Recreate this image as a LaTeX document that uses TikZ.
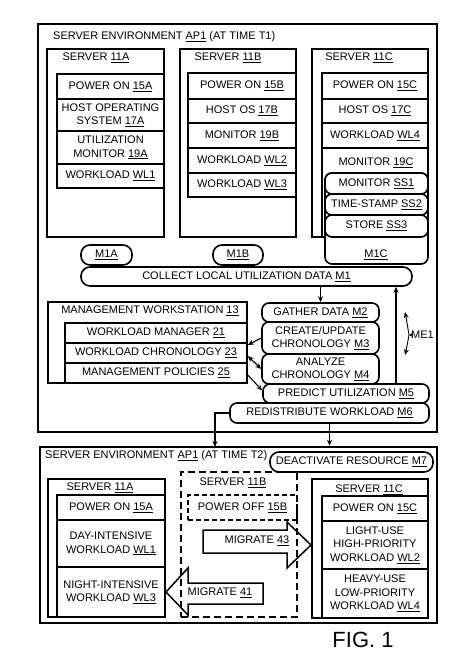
\documentclass[tikz,border=0pt]{standalone}
\usepackage{fontspec}
\setmainfont{Liberation Sans}
\usetikzlibrary{fit,arrows.meta}
\newcommand\ulr[1]{\underline{#1}}
\newcommand\fs{\fontsize{11}{13.5}\selectfont}
% \boxtext{style}{name}{x1,y1}{x2,y2}{text}
\newcommand\boxtext[5]{%
  \node[#1, fit={(#3)(#4)}] (#2) {};
  \node[lbl] (#2-t) at (#2.center) {#5};}
\begin{document}
\begin{tikzpicture}[x=1pt,y=-1pt,
  envbox/.style={draw, line width=2.6pt, inner sep=0pt},
  srvbox/.style={draw, line width=2.4pt, fill=white, inner sep=0pt},
  cell/.style={draw, line width=1.6pt, fill=white, inner sep=0pt},
  rcell/.style={cell, rounded corners=7pt},
  rcellb/.style={cell, rounded corners=9pt},
  lbl/.style={inner sep=0pt, font=\fs, align=center},
  arr/.style={-{Stealth[length=6pt,width=5pt]}, line width=1.1pt},
  arrb/.style={{Stealth[length=6pt,width=5pt]}-{Stealth[length=6pt,width=5pt]}, line width=1.1pt},
  blockarrow/.style={draw, line width=1.5pt, fill=white, line join=miter},
  dashbox/.style={draw, line width=2.6pt, dash pattern=on 7pt off 4pt, inner sep=0pt},
  dashcell/.style={draw, line width=1.6pt, dash pattern=on 5pt off 3pt, inner sep=0pt}
]
\useasboundingbox (0,0) rectangle (474,668);
\fill[white] (0,0) rectangle (474,668);

% ---------- environment at T1 ----------
\node[envbox, fit={(38,24)(437,432)}] (env1) {};
\node[lbl, anchor=west] (env1t) at (53,37) {SERVER ENVIRONMENT \ulr{AP1} (AT TIME T1)};

% server 11A
\node[srvbox, fit={(47,49)(164,237)}] (s11a) {};
\node[lbl] (s11at) at (96,58) {SERVER \ulr{11A}};
\boxtext{cell}{p15a}{57,74}{164,99}{POWER ON \ulr{15A}}
\boxtext{cell}{h17a}{57,99}{164,131}{HOST OPERATING\\SYSTEM \ulr{17A}}
\boxtext{cell}{m19a}{57,131}{164,164}{UTILIZATION\\MONITOR \ulr{19A}}
\boxtext{cell}{wl1a}{57,164}{164,188}{WORKLOAD \ulr{WL1}}

% server 11B
\node[srvbox, fit={(180,49)(296,237)}] (s11b) {};
\node[lbl] (s11bt) at (228,58) {SERVER \ulr{11B}};
\boxtext{cell}{p15b}{188,73}{296,99}{POWER ON \ulr{15B}}
\boxtext{cell}{h17b}{188,99}{296,123}{HOST OS \ulr{17B}}
\boxtext{cell}{m19b}{188,123}{296,148}{MONITOR \ulr{19B}}
\boxtext{cell}{wl2b}{188,148}{296,173}{WORKLOAD \ulr{WL2}}
\boxtext{cell}{wl3b}{188,173}{296,197}{WORKLOAD \ulr{WL3}}

% server 11C
\node[srvbox, fit={(312,49)(428,237)}] (s11c) {};
\node[lbl] (s11ct) at (359,58) {SERVER \ulr{11C}};
\boxtext{cell}{p15c}{322,73}{428,99}{POWER ON \ulr{15C}}
\boxtext{cell}{h17c}{322,99}{428,123}{HOST OS \ulr{17C}}
\boxtext{cell}{wl4c}{322,123}{428,148}{WORKLOAD \ulr{WL4}}
\node[cell, fit={(322,148)(428,237)}] (m19c) {};
\node[lbl] (m19ct) at (376,163) {MONITOR \ulr{19C}};
\node[rcell, fit={(325,173)(428,264)}] (m1cbox) {};
\boxtext{rcell}{ss1}{325,173}{428,194}{MONITOR \ulr{SS1}}
\boxtext{rcell}{ss2}{325,194}{428,215}{TIME-STAMP \ulr{SS2}}
\boxtext{rcell}{ss3}{325,215}{428,237}{STORE \ulr{SS3}}
\node[lbl] (m1c) at (376,255) {\ulr{M1C}};

% collection
\boxtext{rcellb}{m1a}{81,245}{132,265}{\ulr{M1A}}
\boxtext{rcellb}{m1b}{213,245}{263,265}{\ulr{M1B}}
\boxtext{rcellb}{m1}{81,267}{412,286}{COLLECT LOCAL UTILIZATION DATA \ulr{M1}}

% management workstation
\node[srvbox, fit={(48,302)(247,383)}] (mw) {};
\node[lbl] (mwt) at (150,311) {MANAGEMENT WORKSTATION \ulr{13}};
\boxtext{cell}{wm21}{65,323}{247,343}{WORKLOAD MANAGER \ulr{21}}
\boxtext{cell}{wc23}{65,343}{247,363}{WORKLOAD CHRONOLOGY \ulr{23}}
\boxtext{cell}{mp25}{65,363}{247,383}{MANAGEMENT POLICIES \ulr{25}}

% method steps
\boxtext{rcell}{m2}{262,303}{379,322}{GATHER DATA \ulr{M2}}
\boxtext{rcell}{m3}{262,322}{379,354}{CREATE/UPDATE\\CHRONOLOGY \ulr{M3}}
\boxtext{rcell}{m4}{262,354}{379,384}{ANALYZE\\CHRONOLOGY \ulr{M4}}
\boxtext{rcell}{m5}{263,384}{429,403}{PREDICT UTILIZATION \ulr{M5}}
\boxtext{rcell}{m6}{230,403}{429,423}{REDISTRIBUTE WORKLOAD \ulr{M6}}

\draw[arr] (m2.north |- m1.south) -- (m2.north);
\coordinate (upx) at (396,0);
\draw[arr] (m5.north -| upx) -- (m1.south -| upx);
\draw[arr] (m3.west) -- ([yshift=8pt]wc23.east);
\draw[arrb] ([yshift=-3pt]wc23.east) -- (m4.west);
\draw[arr] ([yshift=-2pt]mp25.east) -- ([yshift=3pt]m5.west);

% ME1
\node[lbl, anchor=west] (me1) at (411,335) {ME1};
\coordinate (me1top) at (405,312);
\coordinate (me1bot) at (405,355);
\coordinate (me1mid) at (409,335);
\draw[arr, line width=0.9pt] (me1mid) .. controls (408,326) .. (me1top);
\draw[arr, line width=0.9pt] (me1mid) .. controls (408,344) .. (me1bot);
\draw[-{Stealth[length=4pt,width=4pt]}, line width=0.8pt] (me1.west) -- (me1mid);

% ---------- environment at T2 ----------
\node[envbox, fit={(40,447)(437,623)}] (env2) {};
\node[lbl, anchor=west] (env2t) at (45,456) {SERVER ENVIRONMENT \ulr{AP1} (AT TIME T2)};
\boxtext{rcellb}{m7}{270,452}{433,472}{DEACTIVATE RESOURCE \ulr{M7}}

\coordinate (d1) at (215,447);
\draw[arr] (m6.west) -| (d1);
\draw[arr] (m6.south) -- (m6.south |- env2.north);

% lower server 11A
\node[srvbox, fit={(48,479)(165,617)}] (t11a) {};
\node[lbl] (t11at) at (100,488) {SERVER \ulr{11A}};
\boxtext{cell}{t15a}{57,495}{165,520}{POWER ON \ulr{15A}}
\boxtext{cell}{twl1}{57,520}{165,567}{DAY-INTENSIVE\\WORKLOAD \ulr{WL1}}
\boxtext{cell}{twl3}{57,567}{165,617}{NIGHT-INTENSIVE\\WORKLOAD \ulr{WL3}}

% lower server 11C
\node[srvbox, fit={(312,479)(428,618)}] (t11c) {};
\node[lbl] (t11ct) at (369,490) {SERVER \ulr{11C}};
\boxtext{cell}{t15c}{322,496}{428,521}{POWER ON \ulr{15C}}
\boxtext{cell}{twl2}{322,521}{428,569}{LIGHT-USE\\HIGH-PRIORITY\\WORKLOAD \ulr{WL2}}
\boxtext{cell}{twl4}{322,569}{428,618}{HEAVY-USE\\LOW-PRIORITY\\WORKLOAD \ulr{WL4}}

% block arrows
\draw[blockarrow] (203,530) -- (287,530) -- (287,522) -- (311,545) -- (287,568) -- (287,553) -- (203,553) -- cycle;
\node[lbl] (mig43) at (257,541) {MIGRATE \ulr{43}};
\draw[blockarrow] (263,583) -- (188,583) -- (188,568) -- (166,592) -- (188,615) -- (188,604) -- (263,604) -- cycle;
\node[lbl] (mig41) at (220,593) {MIGRATE \ulr{41}};

% lower server 11B (dashed)
\node[dashbox, fit={(181,472)(297,617)}] (t11b) {};
\node[lbl] (t11bt) at (233,483) {SERVER \ulr{11B}};
\boxtext{dashcell}{t15b}{188,495}{297,520}{POWER OFF \ulr{15B}}

\node[inner sep=0pt, font=\fontsize{22}{26}\selectfont] (fig) at (363,640) {FIG. 1};
\end{tikzpicture}
\end{document}
